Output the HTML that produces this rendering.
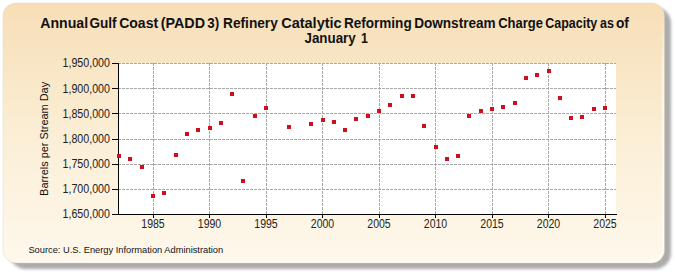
<!DOCTYPE html>
<html><head><meta charset="utf-8"><style>
html,body{margin:0;padding:0;background:#fff;width:675px;height:275px;overflow:hidden}
svg{display:block}
text{font-family:"Liberation Sans",sans-serif}
</style></head><body>
<svg width="675" height="275" viewBox="0 0 675 275">
<defs>
<linearGradient id="bg" x1="0" y1="0" x2="0" y2="1">
<stop offset="0" stop-color="#F7DEB6"/><stop offset="0.5" stop-color="#FBEED5"/><stop offset="1" stop-color="#FEF8EC"/>
</linearGradient>
<linearGradient id="hl" gradientUnits="userSpaceOnUse" x1="0" y1="14" x2="0" y2="70">
<stop offset="0" stop-color="#fff" stop-opacity="0"/><stop offset="1" stop-color="#fff" stop-opacity="0.6"/>
</linearGradient>
<linearGradient id="hl2" gradientUnits="userSpaceOnUse" x1="14" y1="0" x2="90" y2="0">
<stop offset="0" stop-color="#fff" stop-opacity="0"/><stop offset="1" stop-color="#fff" stop-opacity="0.6"/>
</linearGradient>
<filter id="sh" x="-10%" y="-10%" width="120%" height="120%"><feGaussianBlur stdDeviation="1.8"/></filter>
<filter id="sb" x="-5%" y="-5%" width="110%" height="110%"><feGaussianBlur stdDeviation="0.75"/></filter>
</defs>
<g filter="url(#sb)">
<rect x="9.5" y="7" width="661.5" height="262" rx="16" ry="16" fill="#acacac" filter="url(#sh)"/>
<rect x="3" y="3" width="661.5" height="260" rx="13" ry="13" fill="url(#bg)" stroke="#d8cfb8" stroke-opacity="0.35" stroke-width="1"/>
<path d="M663 14 V249 A13 13 0 0 1 650 261.5" fill="none" stroke="url(#hl)" stroke-width="1.8"/><path d="M650 261.5 H14" fill="none" stroke="url(#hl2)" stroke-width="1.8"/>
</g>
<rect x="118" y="63" width="498" height="151" fill="#fff"/>

<g stroke="#A8A8A8" stroke-width="1" stroke-dasharray="3,1" shape-rendering="crispEdges"><line x1="118" y1="63.5" x2="616" y2="63.5"/><line x1="118" y1="88.5" x2="616" y2="88.5"/><line x1="118" y1="113.5" x2="616" y2="113.5"/><line x1="118" y1="139.5" x2="616" y2="139.5"/><line x1="118" y1="164.5" x2="616" y2="164.5"/><line x1="118" y1="189.5" x2="616" y2="189.5"/><line x1="118" y1="214.5" x2="616" y2="214.5"/><line x1="153.5" y1="63" x2="153.5" y2="214"/><line x1="209.5" y1="63" x2="209.5" y2="214"/><line x1="266.5" y1="63" x2="266.5" y2="214"/><line x1="322.5" y1="63" x2="322.5" y2="214"/><line x1="379.5" y1="63" x2="379.5" y2="214"/><line x1="435.5" y1="63" x2="435.5" y2="214"/><line x1="492.5" y1="63" x2="492.5" y2="214"/><line x1="548.5" y1="63" x2="548.5" y2="214"/><line x1="605.5" y1="63" x2="605.5" y2="214"/></g>
<g stroke="#000" stroke-width="1" shape-rendering="crispEdges"><line x1="118.5" y1="63" x2="118.5" y2="215"/><line x1="112" y1="214.5" x2="617" y2="214.5"/><line x1="112" y1="63.5" x2="118" y2="63.5"/><line x1="112" y1="88.5" x2="118" y2="88.5"/><line x1="112" y1="113.5" x2="118" y2="113.5"/><line x1="112" y1="139.5" x2="118" y2="139.5"/><line x1="112" y1="164.5" x2="118" y2="164.5"/><line x1="112" y1="189.5" x2="118" y2="189.5"/><line x1="112" y1="214.5" x2="118" y2="214.5"/><line x1="153.5" y1="214" x2="153.5" y2="218"/><line x1="209.5" y1="214" x2="209.5" y2="218"/><line x1="266.5" y1="214" x2="266.5" y2="218"/><line x1="322.5" y1="214" x2="322.5" y2="218"/><line x1="379.5" y1="214" x2="379.5" y2="218"/><line x1="435.5" y1="214" x2="435.5" y2="218"/><line x1="492.5" y1="214" x2="492.5" y2="218"/><line x1="548.5" y1="214" x2="548.5" y2="218"/><line x1="605.5" y1="214" x2="605.5" y2="218"/></g>
<g fill="#CC1020" shape-rendering="crispEdges"><rect x="117" y="154" width="4" height="4"/><rect x="128" y="157" width="4" height="4"/><rect x="140" y="165" width="4" height="4"/><rect x="151" y="194" width="4" height="4"/><rect x="162" y="191" width="4" height="4"/><rect x="174" y="153" width="4" height="4"/><rect x="185" y="132" width="4" height="4"/><rect x="196" y="128" width="4" height="4"/><rect x="208" y="126" width="4" height="4"/><rect x="219" y="121" width="4" height="4"/><rect x="230" y="92" width="4" height="4"/><rect x="241" y="179" width="4" height="4"/><rect x="253" y="114" width="4" height="4"/><rect x="264" y="106" width="4" height="4"/><rect x="287" y="125" width="4" height="4"/><rect x="309" y="122" width="4" height="4"/><rect x="321" y="118" width="4" height="4"/><rect x="332" y="120" width="4" height="4"/><rect x="343" y="128" width="4" height="4"/><rect x="354" y="117" width="4" height="4"/><rect x="366" y="114" width="4" height="4"/><rect x="377" y="109" width="4" height="4"/><rect x="388" y="103" width="4" height="4"/><rect x="400" y="94" width="4" height="4"/><rect x="411" y="94" width="4" height="4"/><rect x="422" y="124" width="4" height="4"/><rect x="434" y="145" width="4" height="4"/><rect x="445" y="157" width="4" height="4"/><rect x="456" y="154" width="4" height="4"/><rect x="467" y="114" width="4" height="4"/><rect x="479" y="109" width="4" height="4"/><rect x="490" y="107" width="4" height="4"/><rect x="501" y="105" width="4" height="4"/><rect x="513" y="101" width="4" height="4"/><rect x="524" y="76" width="4" height="4"/><rect x="535" y="73" width="4" height="4"/><rect x="547" y="69" width="4" height="4"/><rect x="558" y="96" width="4" height="4"/><rect x="569" y="116" width="4" height="4"/><rect x="580" y="115" width="4" height="4"/><rect x="592" y="107" width="4" height="4"/><rect x="603" y="106" width="4" height="4"/></g>
<text x="110" y="67.4" text-anchor="end" font-size="12.5" textLength="47.5" lengthAdjust="spacingAndGlyphs" fill="#222">1,950,000</text><text x="110" y="92.6" text-anchor="end" font-size="12.5" textLength="47.5" lengthAdjust="spacingAndGlyphs" fill="#222">1,900,000</text><text x="110" y="117.7" text-anchor="end" font-size="12.5" textLength="47.5" lengthAdjust="spacingAndGlyphs" fill="#222">1,850,000</text><text x="110" y="142.9" text-anchor="end" font-size="12.5" textLength="47.5" lengthAdjust="spacingAndGlyphs" fill="#222">1,800,000</text><text x="110" y="168.1" text-anchor="end" font-size="12.5" textLength="47.5" lengthAdjust="spacingAndGlyphs" fill="#222">1,750,000</text><text x="110" y="193.2" text-anchor="end" font-size="12.5" textLength="47.5" lengthAdjust="spacingAndGlyphs" fill="#222">1,700,000</text><text x="110" y="218.4" text-anchor="end" font-size="12.5" textLength="47.5" lengthAdjust="spacingAndGlyphs" fill="#222">1,650,000</text><text x="153.0" y="227.7" text-anchor="middle" font-size="12" textLength="23.4" lengthAdjust="spacingAndGlyphs" fill="#222">1985</text><text x="209.5" y="227.7" text-anchor="middle" font-size="12" textLength="23.4" lengthAdjust="spacingAndGlyphs" fill="#222">1990</text><text x="266.0" y="227.7" text-anchor="middle" font-size="12" textLength="23.4" lengthAdjust="spacingAndGlyphs" fill="#222">1995</text><text x="322.5" y="227.7" text-anchor="middle" font-size="12" textLength="23.4" lengthAdjust="spacingAndGlyphs" fill="#222">2000</text><text x="379.0" y="227.7" text-anchor="middle" font-size="12" textLength="23.4" lengthAdjust="spacingAndGlyphs" fill="#222">2005</text><text x="435.5" y="227.7" text-anchor="middle" font-size="12" textLength="23.4" lengthAdjust="spacingAndGlyphs" fill="#222">2010</text><text x="492.0" y="227.7" text-anchor="middle" font-size="12" textLength="23.4" lengthAdjust="spacingAndGlyphs" fill="#222">2015</text><text x="548.5" y="227.7" text-anchor="middle" font-size="12" textLength="23.4" lengthAdjust="spacingAndGlyphs" fill="#222">2020</text><text x="605.0" y="227.7" text-anchor="middle" font-size="12" textLength="23.4" lengthAdjust="spacingAndGlyphs" fill="#222">2025</text>
<text x="40.29" y="27.80" font-size="14" font-weight="bold" textLength="47.87" lengthAdjust="spacingAndGlyphs" fill="#111">Annual</text>
<text x="89.53" y="27.80" font-size="14" font-weight="bold" textLength="27.07" lengthAdjust="spacingAndGlyphs" fill="#111">Gulf</text>
<text x="119.20" y="27.80" font-size="14" font-weight="bold" textLength="38.91" lengthAdjust="spacingAndGlyphs" fill="#111">Coast</text>
<text x="160.78" y="27.80" font-size="14" font-weight="bold" textLength="44.22" lengthAdjust="spacingAndGlyphs" fill="#111">(PADD</text>
<text x="207.35" y="27.80" font-size="14" font-weight="bold" textLength="11.89" lengthAdjust="spacingAndGlyphs" fill="#111">3)</text>
<text x="223.02" y="27.80" font-size="14" font-weight="bold" textLength="54.81" lengthAdjust="spacingAndGlyphs" fill="#111">Refinery</text>
<text x="281.16" y="27.80" font-size="14" font-weight="bold" textLength="60.51" lengthAdjust="spacingAndGlyphs" fill="#111">Catalytic</text>
<text x="343.93" y="27.80" font-size="14" font-weight="bold" textLength="67.74" lengthAdjust="spacingAndGlyphs" fill="#111">Reforming</text>
<text x="414.13" y="27.80" font-size="14" font-weight="bold" textLength="81.57" lengthAdjust="spacingAndGlyphs" fill="#111">Downstream</text>
<text x="498.17" y="27.80" font-size="14" font-weight="bold" textLength="44.75" lengthAdjust="spacingAndGlyphs" fill="#111">Charge</text>
<text x="545.31" y="27.80" font-size="14" font-weight="bold" textLength="51.91" lengthAdjust="spacingAndGlyphs" fill="#111">Capacity</text>
<text x="600.00" y="27.80" font-size="14" font-weight="bold" textLength="13.81" lengthAdjust="spacingAndGlyphs" fill="#111">as</text>
<text x="615.92" y="27.80" font-size="14" font-weight="bold" textLength="13.00" lengthAdjust="spacingAndGlyphs" fill="#111">of</text>
<text x="304.50" y="42.80" font-size="14" font-weight="bold" textLength="51.22" lengthAdjust="spacingAndGlyphs" fill="#111">January</text>
<text x="361.12" y="42.80" font-size="14" font-weight="bold" textLength="6.89" lengthAdjust="spacingAndGlyphs" fill="#111">1</text>
<text x="28.40" y="253.00" font-size="9.3" font-weight="normal" textLength="194.81" lengthAdjust="spacingAndGlyphs" fill="#111">Source: U.S. Energy Information Administration</text>
<text transform="translate(47.6,138.9) rotate(-90)" text-anchor="middle" font-size="11" textLength="114" lengthAdjust="spacingAndGlyphs" fill="#111">Barrels per Stream Day</text>
</svg></body></html>
